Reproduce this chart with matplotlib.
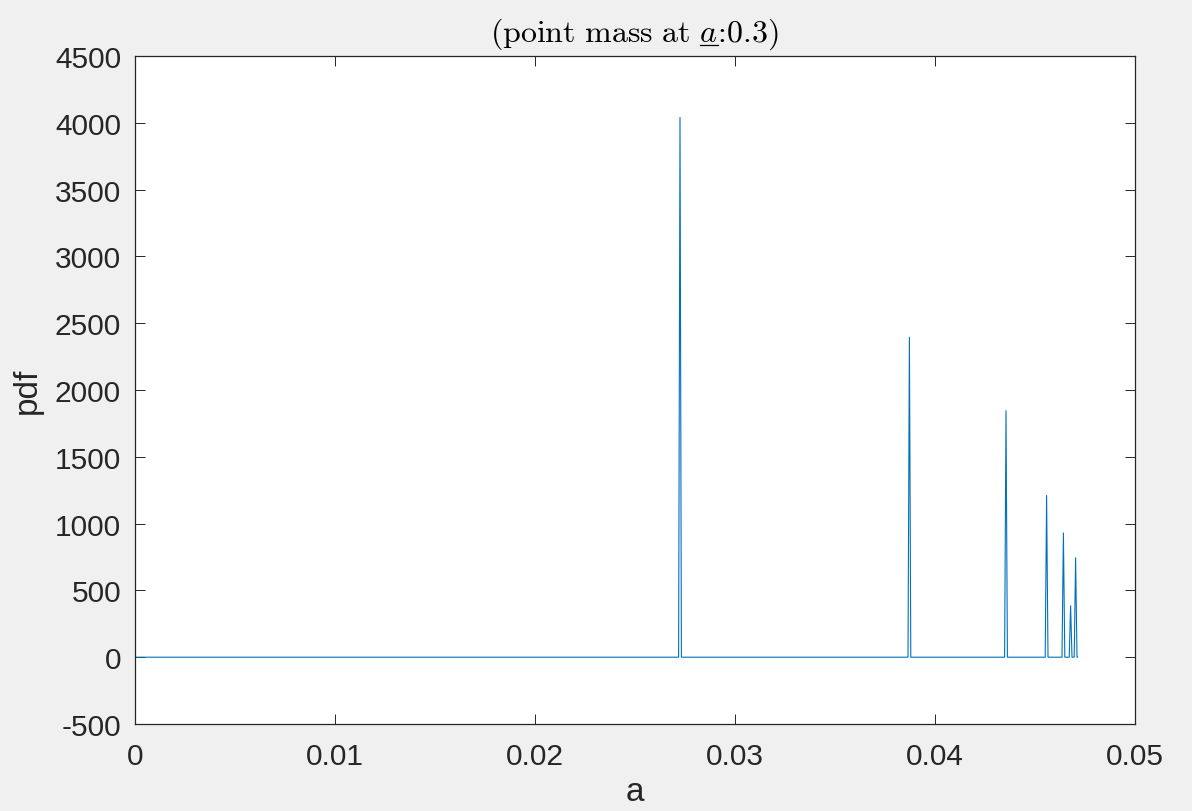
import numpy as np
import matplotlib
matplotlib.use("Agg")
import matplotlib.pyplot as plt
from matplotlib.lines import Line2D

# ---- data ----
spike_x = [0.02725, 0.03872, 0.04355, 0.04558, 0.04642, 0.04678, 0.04703]
spike_h = [4040, 2395, 1845, 1210, 930, 385, 745]
x_start = 0.0
x_end = 0.04712
half_width = 0.00007

x_ticks = [0, 0.01, 0.02, 0.03, 0.04, 0.05]
y_ticks = list(range(-500, 4501, 500))
title_text = r'$\mathrm{(point\ mass\ at\ }a\!:\!\mathrm{0.3)}$'
xlabel = 'a'
ylabel = 'pdf'

# build the pdf curve: zero baseline with narrow spikes
xs = [x_start]
ys = [0.0]
for sx, sh in zip(spike_x, spike_h):
    xs += [sx - half_width, sx, sx + half_width]
    ys += [0.0, sh, 0.0]
xs.append(x_end)
ys.append(0.0)

plt.rcParams['font.family'] = ['Liberation Sans', 'DejaVu Sans']
plt.rcParams['mathtext.fontset'] = 'cm'

W, H = 1192, 812
fig = plt.figure(figsize=(W / 100, H / 100), dpi=100, facecolor='#f0f0f0')
ax = fig.add_axes([135 / W, (H - 725) / H, 1000 / W, 668 / H])
ax.set_facecolor('white')
ax.plot(xs, ys, color='#0072BD', linewidth=0.8)

ax.set_xlim(0, 0.05)
ax.set_ylim(-500, 4500)
ax.set_xticks(x_ticks)
ax.set_xticklabels(['%g' % v for v in x_ticks])
ax.set_yticks(y_ticks)
ax.set_yticklabels(['%g' % v for v in y_ticks])

dark = '#262626'
for s in ax.spines.values():
    s.set_color(dark)
    s.set_linewidth(0.9)
ax.tick_params(direction='in', length=7, width=0.7, color=dark, labelcolor=dark,
               labelsize=21.5, top=True, right=True)
ax.tick_params(axis='x', pad=13)
ax.tick_params(axis='y', pad=10)

ax.set_xlabel(xlabel, fontsize=24, color=dark, labelpad=4)
ax.set_ylabel(ylabel, fontsize=24, color=dark, labelpad=9)

# title with underlined 'a'
fs = 23
tx = (135 + 1135) / 2 / W
ty = (H - 42) / H
t = fig.text(tx, ty, title_text, ha='center', va='baseline', fontsize=fs, color='black')
fig.canvas.draw()
r = fig.canvas.get_renderer()
bb = t.get_window_extent(r)
tmp1 = fig.text(0, 0, r'$\mathrm{(point\ mass\ at\ }a$', fontsize=fs)
tmp2 = fig.text(0, 0, r'$a$', fontsize=fs)
w1 = tmp1.get_window_extent(r).width
w2 = tmp2.get_window_extent(r).width
tmp1.remove()
tmp2.remove()
ux1 = bb.x0 + w1
ux0 = ux1 - w2
uy = ty * H - 4
fig.add_artist(Line2D([ux0 / W, ux1 / W], [uy / H, uy / H], transform=fig.transFigure,
                      color='black', linewidth=0.9))

fig.savefig('out.png', dpi=100, facecolor=fig.get_facecolor())
